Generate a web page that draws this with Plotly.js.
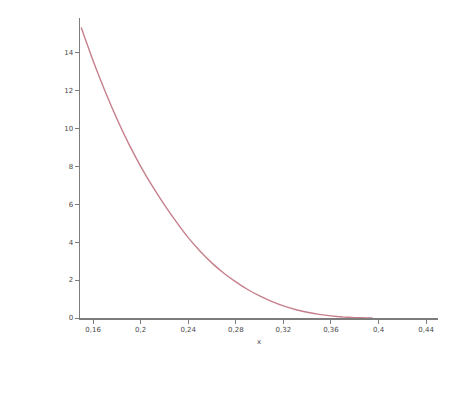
<!DOCTYPE html>
<html>
<head>
<meta charset="utf-8">
<script src="https://cdn.plot.ly/plotly-3.0.1.min.js"></script>
<style>
  html, body { margin: 0; padding: 0; background: #ffffff; }
  #chart { width: 474px; height: 403px; }
</style>
</head>
<body>
<div id="chart"></div>
<script>
// values
var x_vals = [0.15, 0.16, 0.17, 0.18, 0.19, 0.20, 0.21, 0.22, 0.23, 0.24,
              0.25, 0.26, 0.27, 0.28, 0.29, 0.30, 0.31, 0.32, 0.33, 0.34,
              0.35, 0.36, 0.37, 0.38, 0.39, 0.395];
var y_vals = [15.3, 13.55, 11.95, 10.49, 9.17, 7.99, 6.93, 5.96, 5.06, 4.23,
              3.51, 2.89, 2.36, 1.9, 1.5, 1.16, 0.88, 0.64, 0.45, 0.3,
              0.19, 0.11, 0.055, 0.02, 0.005, 0];
var x_ticks = [0.16, 0.2, 0.24, 0.28, 0.32, 0.36, 0.4, 0.44];
var y_ticks = [0, 2, 4, 6, 8, 10, 12, 14];

var axis_color = "#7d7d7d";
var tick_font = { family: "DejaVu Sans", size: 7, color: "#4a4a4a" };

var trace = {
	type: "scatter",
	mode: "lines",
	x: x_vals,
	y: y_vals,
	line: { color: "#c67f8b", width: 1.4, shape: "spline", smoothing: 0.5 },
	hoverinfo: "none"
};

var layout = {
	width: 474,
	height: 403,
	paper_bgcolor: "#ffffff",
	plot_bgcolor: "#ffffff",
	showlegend: false,
	separators: ", ",
	margin: { l: 80, r: 36, t: 18, b: 85 },
	xaxis: {
		range: [0.149, 0.45],
		tickvals: x_ticks,
		showgrid: false,
		zeroline: false,
		showline: true,
		linecolor: axis_color,
		linewidth: 1.5,
		ticks: "outside",
		ticklen: 4,
		tickcolor: axis_color,
		tickfont: tick_font,
		title: { text: "x", font: { family: "DejaVu Sans", size: 7, color: "#4a4a4a" }, standoff: 6 }
	},
	yaxis: {
		range: [0, 15.8],
		tickvals: y_ticks,
		showgrid: false,
		zeroline: false,
		showline: true,
		linecolor: axis_color,
		linewidth: 1.5,
		ticks: "outside",
		ticklen: 4,
		tickcolor: axis_color,
		tickfont: tick_font
	}
};

Plotly.newPlot("chart", [trace], layout, { displayModeBar: false, staticPlot: true });
</script>
</body>
</html>
